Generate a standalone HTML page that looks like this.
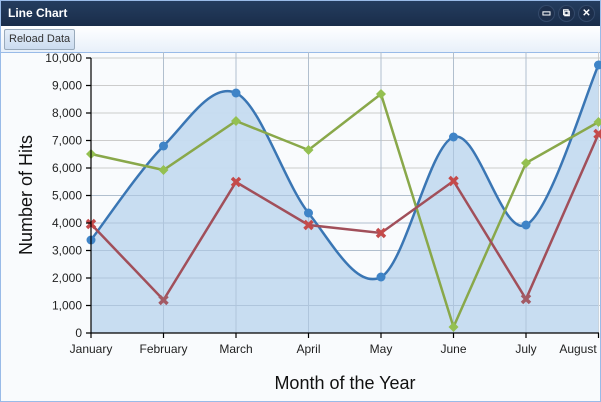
<!DOCTYPE html>
<html><head><style>
body{margin:0;width:601px;height:402px;overflow:hidden;font-family:"Liberation Sans",sans-serif;}
.win{position:absolute;left:0;top:0;width:599px;height:400px;border:1px solid #99bbe8;background:#f9fbfd;}
.title{position:absolute;left:0;top:0;width:599px;height:25px;background:linear-gradient(#243d5f,#1a2d4a);color:#fff;font-weight:bold;font-size:12px;line-height:25px;}
.title span{margin-left:7px;}
.tb{position:absolute;left:0;top:25px;width:599px;height:26px;background:linear-gradient(#fff,#e8f0fa);border-bottom:1px solid #99bbe8;}
.btn{position:absolute;left:3px;top:3px;height:19px;padding:0 4px;border:1px solid #9ab;border-radius:2px;background:linear-gradient(#e4edf8,#cbdcf0);font-size:11px;line-height:19px;color:#333;}
.ic{position:absolute;top:4px;width:15px;height:15px;border-radius:50%;background:#1d2f4c;border:1px solid #33496a;color:#fff;font-size:10px;text-align:center;line-height:15px;}
</style></head><body>
<div class="win">
<div class="title"><span>Line Chart</span>
<div class="ic" style="left:537px">▭</div><div class="ic" style="left:557px">⧉</div><div class="ic" style="left:577px">✕</div></div>
<div class="tb"><div class="btn">Reload Data</div></div>
</div>
<svg width="601" height="402" style="position:absolute;left:0;top:0" font-family="Liberation Sans, sans-serif">
<g stroke="#ccc" stroke-width="1">
<line x1="91" y1="305.5" x2="600" y2="305.5"/><line x1="91" y1="278" x2="600" y2="278"/><line x1="91" y1="250.5" x2="600" y2="250.5"/><line x1="91" y1="223" x2="600" y2="223"/><line x1="91" y1="195.5" x2="600" y2="195.5"/><line x1="91" y1="168" x2="600" y2="168"/><line x1="91" y1="140.5" x2="600" y2="140.5"/><line x1="91" y1="113" x2="600" y2="113"/><line x1="91" y1="85.5" x2="600" y2="85.5"/><line x1="91" y1="58" x2="600" y2="58"/>
<line x1="163.5" y1="52" x2="163.5" y2="333"/><line x1="236" y1="52" x2="236" y2="333"/><line x1="308.5" y1="52" x2="308.5" y2="333"/><line x1="381" y1="52" x2="381" y2="333"/><line x1="453.5" y1="52" x2="453.5" y2="333"/><line x1="526" y1="52" x2="526" y2="333"/><line x1="598.5" y1="52" x2="598.5" y2="333"/>
</g>
<path d="M91,240 C103.1,224.3 139.3,170.5 163.5,146 C187.7,121.5 211.8,81.8 236,93 C260.2,104.2 284.3,182.3 308.5,213 C332.7,243.7 356.8,289.7 381,277 C405.2,264.3 429.3,145.7 453.5,137 C477.7,128.3 501.8,237 526,225 C550.2,213 586.4,91.7 598.5,65 L598.5,333 L91,333 Z" fill="#c5dbf0" fill-opacity="0.95"/>
<g stroke="#a0b8d0" stroke-width="1" opacity="0.6">
<line x1="91" y1="305.5" x2="598" y2="305.5"/><line x1="91" y1="278" x2="598" y2="278"/><line x1="91" y1="250.5" x2="598" y2="250.5"/><line x1="91" y1="223" x2="598" y2="223"/><line x1="91" y1="195.5" x2="598" y2="195.5"/><line x1="163.5" y1="52" x2="163.5" y2="333"/><line x1="236" y1="52" x2="236" y2="333"/><line x1="308.5" y1="52" x2="308.5" y2="333"/><line x1="381" y1="52" x2="381" y2="333"/><line x1="453.5" y1="52" x2="453.5" y2="333"/><line x1="526" y1="52" x2="526" y2="333"/>
</g>
<path d="M91,240 C103.1,224.3 139.3,170.5 163.5,146 C187.7,121.5 211.8,81.8 236,93 C260.2,104.2 284.3,182.3 308.5,213 C332.7,243.7 356.8,289.7 381,277 C405.2,264.3 429.3,145.7 453.5,137 C477.7,128.3 501.8,237 526,225 C550.2,213 586.4,91.7 598.5,65" fill="none" stroke="#3a76b4" stroke-width="2.5"/>
<polyline points="91,154 163.5,170 236,121 308.5,150 381,94 453.5,327 526,163 598.5,122" fill="none" stroke="#89a84a" stroke-width="2.5"/>
<polyline points="91,224 163.5,300 236,182 308.5,225 381,233 453.5,181 526,299 598.5,134" fill="none" stroke="#a14f5a" stroke-width="2.5"/>
<g fill="#3f84c7">
<circle cx="91" cy="240" r="4.5"/><circle cx="163.5" cy="146" r="4.5"/><circle cx="236" cy="93" r="4.5"/><circle cx="308.5" cy="213" r="4.5"/><circle cx="381" cy="277" r="4.5"/><circle cx="453.5" cy="137" r="4.5"/><circle cx="526" cy="225" r="4.5"/><circle cx="598.5" cy="65" r="4.5"/></g>
<g fill="#94c051">
<path d="M91,149 l5,5 -5,5 -5,-5z"/><path d="M163.5,165 l5,5 -5,5 -5,-5z"/><path d="M236,116 l5,5 -5,5 -5,-5z"/><path d="M308.5,145 l5,5 -5,5 -5,-5z"/><path d="M381,89 l5,5 -5,5 -5,-5z"/><path d="M453.5,322 l5,5 -5,5 -5,-5z"/><path d="M526,158 l5,5 -5,5 -5,-5z"/><path d="M598.5,117 l5,5 -5,5 -5,-5z"/></g>
<g stroke="#c44a4a" stroke-width="3.5">
<path d="M87,220 l8,8 M95,220 l-8,8"/><path d="M159.5,296 l8,8 M167.5,296 l-8,8" stroke="#a35a64"/><path d="M232,178 l8,8 M240,178 l-8,8"/><path d="M304.5,221 l8,8 M312.5,221 l-8,8"/><path d="M377,229 l8,8 M385,229 l-8,8"/><path d="M449.5,177 l8,8 M457.5,177 l-8,8"/><path d="M522,295 l8,8 M530,295 l-8,8" stroke="#a35a64"/><path d="M594.5,130 l8,8 M602.5,130 l-8,8"/></g>
<g stroke="#000" stroke-width="1.2" fill="none">
<path d="M91,58 V333 H599"/>
<path d="M86,58H91M86,85.5H91M86,113H91M86,140.5H91M86,168H91M86,195.5H91M86,223H91M86,250.5H91M86,278H91M86,305.5H91M86,333H91"/>
<path d="M91,333V338M163.5,333V338M236,333V338M308.5,333V338M381,333V338M453.5,333V338M526,333V338M598.5,333V338"/>
</g>
<g font-size="12" fill="#222" text-anchor="end">
<text x="82" y="62">10,000</text><text x="82" y="89.5">9,000</text><text x="82" y="117">8,000</text><text x="82" y="144.5">7,000</text><text x="82" y="172">6,000</text><text x="82" y="199.5">5,000</text><text x="82" y="227">4,000</text><text x="82" y="254.5">3,000</text><text x="82" y="282">2,000</text><text x="82" y="309.5">1,000</text><text x="82" y="337">0</text></g>
<g font-size="12" fill="#222" text-anchor="middle">
<text x="91" y="353">January</text><text x="163.5" y="353">February</text><text x="236" y="353">March</text><text x="308.5" y="353">April</text><text x="381" y="353">May</text><text x="453.5" y="353">June</text><text x="526" y="353">July</text><text x="578" y="353">August</text></g>
<text x="345" y="389" font-size="18" text-anchor="middle" fill="#111">Month of the Year</text>
<text transform="translate(32,195) rotate(-90)" font-size="18" text-anchor="middle" fill="#111">Number of Hits</text>
</svg>
</body></html>
